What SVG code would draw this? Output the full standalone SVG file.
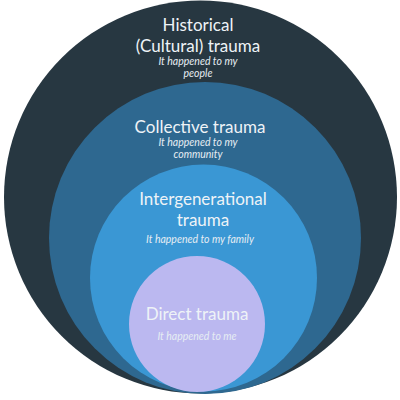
<svg xmlns="http://www.w3.org/2000/svg" width="400" height="400" viewBox="0 0 400 400">
<style>
.t{font-family:"Source Sans Pro","Lato","Noto Sans",sans-serif;fill:#eef3f7;text-anchor:middle;font-size:17px}
.s{font-family:"Source Sans Pro","Lato","Noto Sans",sans-serif;fill:#e6edf3;text-anchor:middle;font-size:10.5px;font-style:italic}
</style>
<rect width="400" height="400" fill="#ffffff"/>
<g id="historical">
<circle cx="200.5" cy="197" r="196.5" fill="#273741"/>
<text class="t" x="198" y="31">Historical</text>
<text class="t" x="198" y="52">(Cultural) trauma</text>
<text class="s" x="198" y="65">It happened to my</text>
<text class="s" x="198" y="77">people</text>
</g>
<g id="collective">
<circle cx="205" cy="238" r="156" fill="#2e6890"/>
<text class="t" x="200" y="133">Collective trauma</text>
<text class="s" x="198" y="146">It happened to my</text>
<text class="s" x="198" y="158">community</text>
</g>
<g id="intergenerational">
<circle cx="203.5" cy="278" r="113.5" fill="#3a97d4"/>
<text class="t" x="203" y="205">Intergenerational</text>
<text class="t" x="203" y="226">trauma</text>
<text class="s" x="200" y="243">It happened to my family</text>
</g>
<g id="direct">
<circle cx="197" cy="324" r="68" fill="#bbb8f0"/>
<text class="t" x="197" y="320">Direct trauma</text>
<text class="s" x="197" y="340">It happened to me</text>
</g>
</svg>
